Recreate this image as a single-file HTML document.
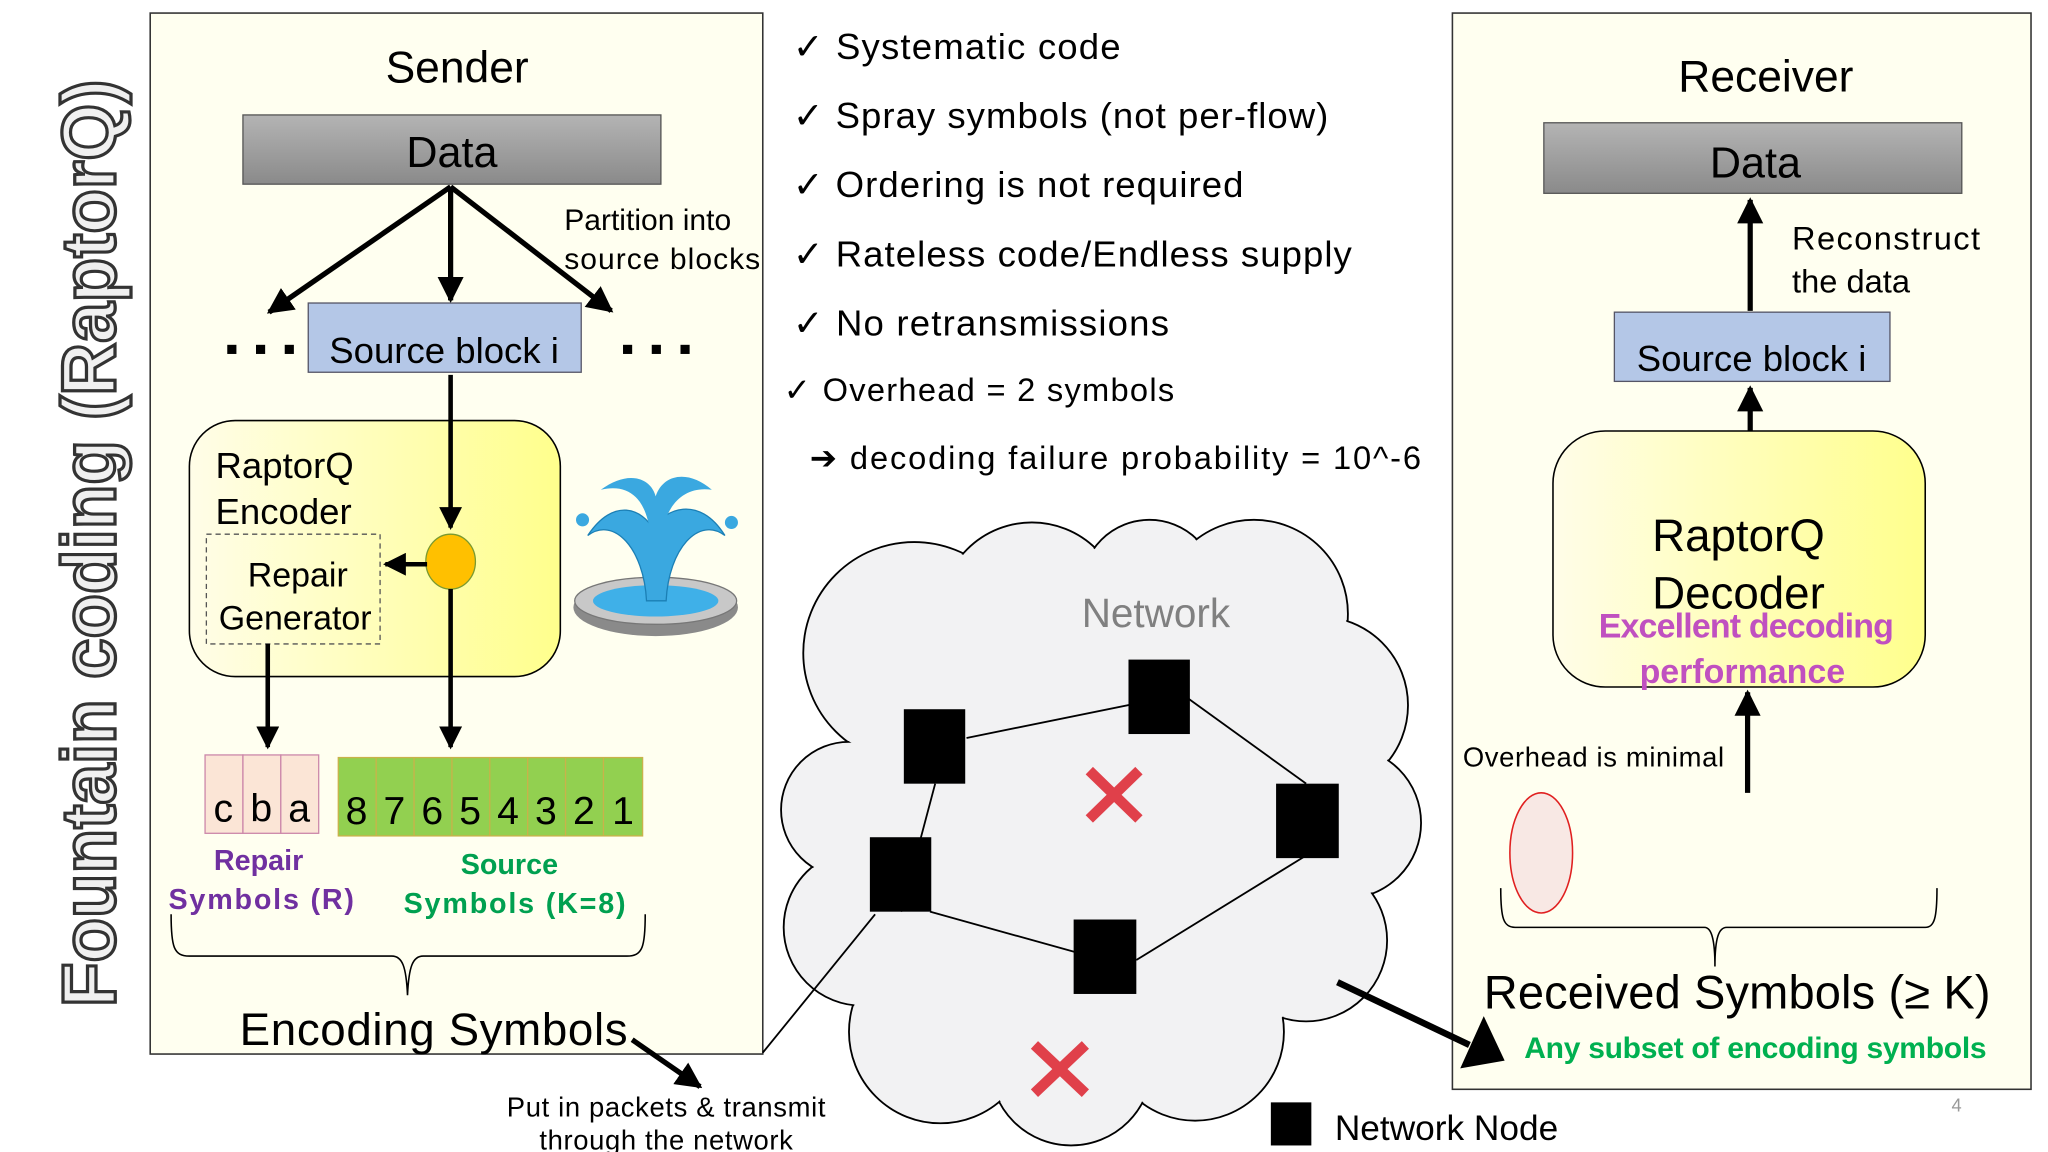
<!DOCTYPE html>
<html><head><meta charset="utf-8"><style>
html,body{margin:0;padding:0;background:#fff;}
svg{display:block;}
text{font-family:"Liberation Sans",sans-serif;}
</style></head><body>
<svg width="2048" height="1152" viewBox="0 0 1568 882" xmlns="http://www.w3.org/2000/svg">
<defs>
<linearGradient id="gray" x1="0" y1="0" x2="0" y2="1"><stop offset="0" stop-color="#b4b4b4"/><stop offset="1" stop-color="#8a8a8a"/></linearGradient>
<linearGradient id="yel" x1="0" y1="0" x2="1" y2="0"><stop offset="0" stop-color="#fffde8"/><stop offset="1" stop-color="#ffff8c"/></linearGradient>
<marker id="ah" viewBox="0 0 10 10" refX="9" refY="5" markerWidth="5" markerHeight="5" orient="auto"><path d="M0,0L10,5L0,10z" fill="#000"/></marker>
</defs>
<rect width="1568" height="882" fill="#fff"/>
<text transform="translate(88,416) rotate(-90)" text-anchor="middle" font-size="58" font-weight="bold" fill="#f0f0f0" stroke="#333" stroke-width="2.5" textLength="710" lengthAdjust="spacingAndGlyphs">Fountain coding (RaptorQ)</text>

<rect x="115" y="10" width="469" height="797" fill="#fffff0" stroke="#333" stroke-width="1.2"/>
<text x="350" y="63" font-size="34" text-anchor="middle">Sender</text>
<rect x="186" y="88" width="320" height="53" fill="url(#gray)" stroke="#555"/>
<text x="346" y="128" font-size="33" text-anchor="middle">Data</text>
<g stroke="#000" stroke-width="4" marker-end="url(#ah)">
<line x1="345" y1="143" x2="206" y2="239"/>
<line x1="345" y1="143" x2="345" y2="230"/>
<line x1="345" y1="143" x2="468" y2="238"/>
</g>
<text x="432" y="176" font-size="23">Partition into</text>
<text x="432" y="206" font-size="23" textLength="150">source blocks</text>
<rect x="236" y="232" width="209" height="53" fill="#b4c7e7" stroke="#556"/>
<text x="340" y="278" font-size="28" text-anchor="middle">Source block i</text>
<g fill="#000"><rect x="174" y="264" width="7" height="7"/><rect x="196" y="264" width="7" height="7"/><rect x="218" y="264" width="7" height="7"/><rect x="477" y="264" width="7" height="7"/><rect x="499" y="264" width="7" height="7"/><rect x="521" y="264" width="7" height="7"/></g>
<rect x="145" y="322" width="284" height="196" rx="35" fill="url(#yel)" stroke="#000" stroke-width="1.2"/>
<text x="165" y="366" font-size="28">RaptorQ</text>
<text x="165" y="401" font-size="28">Encoder</text>
<rect x="158" y="409" width="133" height="84" fill="none" stroke="#555" stroke-dasharray="4,3"/>
<text x="228" y="449" font-size="26" text-anchor="middle">Repair</text>
<text x="226" y="482" font-size="26" text-anchor="middle">Generator</text>
<line x1="345" y1="287" x2="345" y2="404" stroke="#000" stroke-width="3.5" marker-end="url(#ah)"/>
<ellipse cx="345" cy="430" rx="19" ry="21" fill="#ffc000" stroke="#7a9a30"/>
<line x1="327" y1="432" x2="295" y2="432" stroke="#000" stroke-width="3.5" marker-end="url(#ah)"/>
<line x1="345" y1="451" x2="345" y2="572" stroke="#000" stroke-width="3.5" marker-end="url(#ah)"/>
<line x1="205" y1="493" x2="205" y2="572" stroke="#000" stroke-width="3.5" marker-end="url(#ah)"/>
<g>
<ellipse cx="502" cy="465" rx="63" ry="22" fill="#8a8a8a"/>
<ellipse cx="502" cy="460" rx="62" ry="18" fill="#c8c8c8" stroke="#777"/>
<ellipse cx="502" cy="460" rx="48" ry="12" fill="#3fb0e8"/>
<path d="M495,460 C493,420 470,395 450,410 C470,380 492,390 500,405 C508,390 535,378 555,410 C535,395 512,420 510,460z" fill="#3aa8e0" stroke="#1b7fb5"/>
<path d="M498,410 C495,380 480,370 460,375 C480,360 498,365 502,380 C508,362 528,360 545,375 C525,372 510,385 507,410z" fill="#3aa8e0"/>
<circle cx="446" cy="398" r="5" fill="#3aa8e0"/><circle cx="560" cy="400" r="5" fill="#3aa8e0"/>
</g>
<g font-size="30" text-anchor="middle">
<rect x="157" y="578" width="29" height="60" fill="#fbe5d6" stroke="#c8a"/><text x="171" y="629">c</text>
<rect x="186" y="578" width="29" height="60" fill="#fbe5d6" stroke="#c8a"/><text x="200" y="629">b</text>
<rect x="215" y="578" width="29" height="60" fill="#fbe5d6" stroke="#c8a"/><text x="229" y="629">a</text>
<rect x="259" y="580" width="233" height="60" fill="#92d050" stroke="#c9b24a"/>
<g stroke="#c9b24a"><line x1="288" y1="580" x2="288" y2="640"/><line x1="317" y1="580" x2="317" y2="640"/><line x1="346" y1="580" x2="346" y2="640"/><line x1="375" y1="580" x2="375" y2="640"/><line x1="404" y1="580" x2="404" y2="640"/><line x1="433" y1="580" x2="433" y2="640"/><line x1="462" y1="580" x2="462" y2="640"/></g>
<text x="273" y="631">8</text><text x="302" y="631">7</text><text x="331" y="631">6</text><text x="360" y="631">5</text><text x="389" y="631">4</text><text x="418" y="631">3</text><text x="447" y="631">2</text><text x="477" y="631">1</text>
</g>
<g font-size="22" font-weight="bold" text-anchor="middle">
<text x="198" y="666" fill="#7030a0">Repair</text>
<text x="200" y="696" fill="#7030a0" textLength="142">Symbols (R)</text>
<text x="390" y="669" fill="#00a050">Source</text>
<text x="394" y="699" fill="#00a050" textLength="170">Symbols (K=8)</text>
</g>
<path d="M131,700 C131,725 133,732 145,732 L300,732 C308,732 311,740 312,762 C313,740 316,732 324,732 L480,732 C492,732 494,725 494,700" fill="none" stroke="#000" stroke-width="1.2"/>
<text x="332" y="800" font-size="35" text-anchor="middle" textLength="297">Encoding Symbols</text>
<line x1="484" y1="796" x2="536" y2="832" stroke="#000" stroke-width="4" marker-end="url(#ah)"/>
<text x="510" y="855" font-size="21" text-anchor="middle" textLength="244">Put in packets &amp; transmit</text>
<text x="510" y="880" font-size="21" text-anchor="middle" textLength="194">through the network</text>

<g font-size="28">
<text x="607" y="45" textLength="251">✓  Systematic code</text>
<text x="607" y="98" textLength="410">✓  Spray symbols (not per-flow)</text>
<text x="607" y="151" textLength="345">✓  Ordering is not required</text>
<text x="607" y="204" textLength="428">✓  Rateless code/Endless supply</text>
<text x="607" y="257" textLength="288">✓  No retransmissions</text>
</g>
<text x="600" y="307" font-size="25" textLength="299">✓  Overhead = 2 symbols</text>
<text x="620" y="359" font-size="25" textLength="468">➔  decoding failure probability = 10^-6</text>

<g stroke="#000" stroke-width="1.4" fill="#f2f2f3">
<circle cx="700" cy="500" r="85"/><circle cx="790" cy="470" r="70"/><circle cx="880" cy="450" r="52"/><circle cx="960" cy="470" r="72"/><circle cx="1010" cy="540" r="68"/><circle cx="1030" cy="630" r="58"/><circle cx="1000" cy="720" r="62"/><circle cx="915" cy="790" r="68"/><circle cx="820" cy="815" r="62"/><circle cx="720" cy="790" r="70"/><circle cx="660" cy="710" r="60"/><circle cx="650" cy="620" r="52"/>
</g>
<g fill="#f2f2f3">
<circle cx="700" cy="500" r="84"/><circle cx="790" cy="470" r="69"/><circle cx="880" cy="450" r="51"/><circle cx="960" cy="470" r="71"/><circle cx="1010" cy="540" r="67"/><circle cx="1030" cy="630" r="57"/><circle cx="1000" cy="720" r="61"/><circle cx="915" cy="790" r="67"/><circle cx="820" cy="815" r="61"/><circle cx="720" cy="790" r="69"/><circle cx="660" cy="710" r="59"/><circle cx="650" cy="620" r="51"/>
<ellipse cx="845" cy="640" rx="200" ry="190"/>
</g>
<text x="885" y="480" font-size="31" fill="#808080" text-anchor="middle">Network</text>
<g stroke="#000" stroke-width="1.4">
<line x1="740" y1="565" x2="888" y2="535"/><line x1="910" y1="535" x2="1000" y2="600"/><line x1="1000" y1="655" x2="870" y2="735"/><line x1="845" y1="735" x2="712" y2="698"/><line x1="690" y1="698" x2="716" y2="600"/><line x1="670" y1="700" x2="584" y2="806"/>
</g>
<g fill="#000">
<rect x="692" y="543" width="47" height="57"/><rect x="864" y="505" width="47" height="57"/><rect x="977" y="600" width="48" height="57"/><rect x="666" y="641" width="47" height="57"/><rect x="822" y="704" width="48" height="57"/>
</g>
<g stroke="#e0404a" stroke-width="8" stroke-linecap="butt">
<line x1="834" y1="590" x2="872" y2="627"/><line x1="872" y1="590" x2="834" y2="627"/>
<line x1="792" y1="800" x2="831" y2="837"/><line x1="831" y1="800" x2="792" y2="837"/>
</g>
<rect x="973" y="844" width="31" height="33" fill="#000"/>
<text x="1022" y="873" font-size="27">Network Node</text>

<rect x="1112" y="10" width="443" height="824" fill="#fffff0" stroke="#333" stroke-width="1.2"/>
<text x="1352" y="70" font-size="34" text-anchor="middle">Receiver</text>
<rect x="1182" y="94" width="320" height="54" fill="url(#gray)" stroke="#555"/>
<text x="1344" y="136" font-size="33" text-anchor="middle">Data</text>
<line x1="1340" y1="238" x2="1340" y2="153" stroke="#000" stroke-width="4" marker-end="url(#ah)"/>
<text x="1372" y="191" font-size="25" textLength="144">Reconstruct</text>
<text x="1372" y="224" font-size="25">the data</text>
<rect x="1236" y="239" width="211" height="53" fill="#b4c7e7" stroke="#556"/>
<text x="1341" y="284" font-size="28" text-anchor="middle">Source block i</text>
<line x1="1340" y1="330" x2="1340" y2="297" stroke="#000" stroke-width="4" marker-end="url(#ah)"/>
<rect x="1189" y="330" width="285" height="196" rx="40" fill="url(#yel)" stroke="#000" stroke-width="1.2"/>
<text x="1331" y="422" font-size="35" text-anchor="middle">RaptorQ</text>
<text x="1331" y="466" font-size="35" text-anchor="middle">Decoder</text>
<text x="1337" y="488" font-size="26" font-weight="bold" fill="#c050c0" text-anchor="middle" textLength="226">Excellent decoding</text>
<text x="1334" y="523" font-size="26" font-weight="bold" fill="#c050c0" text-anchor="middle">performance</text>
<line x1="1338" y1="607" x2="1338" y2="530" stroke="#000" stroke-width="4" marker-end="url(#ah)"/>
<text x="1120" y="587" font-size="21" textLength="200">Overhead is minimal</text>
<ellipse cx="1180" cy="653" rx="24" ry="46" fill="#f8e8e4" stroke="#e02020" stroke-width="1.2"/>
<path d="M1149,680 C1149,703 1151,710 1160,710 L1305,710 C1310,710 1313,718 1313,740 C1313,718 1316,710 1322,710 L1474,710 C1481,710 1483,703 1483,680" fill="none" stroke="#000" stroke-width="1.2"/>
<text x="1330" y="772" font-size="36" text-anchor="middle" textLength="388">Received Symbols (≥ K)</text>
<text x="1344" y="810" font-size="23" font-weight="bold" fill="#00b050" text-anchor="middle" textLength="354">Any subset of encoding symbols</text>
<text x="1498" y="851" font-size="14" fill="#999" text-anchor="middle">4</text>
<line x1="1024" y1="752" x2="1125" y2="800" stroke="#000" stroke-width="5"/>
<polygon points="1118,818 1136,778 1152,812" fill="#000"/>
</svg>
</body></html>
